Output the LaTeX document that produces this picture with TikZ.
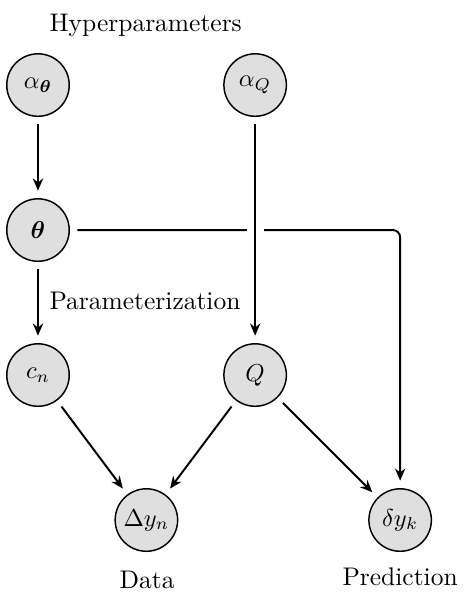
\documentclass[tikz,border=0pt]{standalone}
\usepackage{amsmath,amssymb}
\usepackage{tikz}
\usetikzlibrary{arrows.meta,positioning}
\tikzset{
  latent/.style={circle,draw=black,semithick,fill=gray!25,minimum size=25.5pt,inner sep=0pt},
  caption/.style={font=\fontsize{10.4}{12}\selectfont},
  edge/.style={-{Stealth[length=5pt,width=4.2pt]},thick,shorten <=3pt,shorten >=3pt},
  gap/.style={preaction={draw=white,line width=7pt,-}}
}

\begin{document}
\begin{tikzpicture}
\useasboundingbox (0,0) rectangle (6.80,8.65);
% hyperparameters
\node[latent] (atheta) at (0.545,7.43) {$\alpha_{\boldsymbol{\theta}}$};
\node[latent] (aQ) at (3.66,7.43) {$\alpha_Q$};
% parameters
\node[latent] (theta) at (0.545,5.35) {$\boldsymbol{\theta}$};
\node[latent] (cn) at (0.545,3.27) {$c_n$};
\node[latent] (Q) at (3.66,3.27) {$Q$};
% observations
\node[latent] (dyn) at (2.10,1.19) {$\Delta y_n$};
\node[latent] (dyk) at (5.74,1.19) {$\delta y_k$};
% captions
\node[caption] (hyper) at (2.09,8.29) {Hyperparameters};
\node[caption] (param) at (2.08,4.33) {Parameterization};
\node[caption] (data) at (2.11,0.33) {Data};
\node[caption] (pred) at (5.74,0.37) {Prediction};
% edges
\draw[edge] (atheta)--(theta);\draw[edge] (theta)--(cn);
\draw[edge,rounded corners=3pt] (theta) -| (dyk);
\draw[edge,gap] (aQ)--(Q);
\draw[edge] (cn)--(dyn);\draw[edge] (Q)--(dyn);\draw[edge] (Q)--(dyk);
\end{tikzpicture}
\end{document}
